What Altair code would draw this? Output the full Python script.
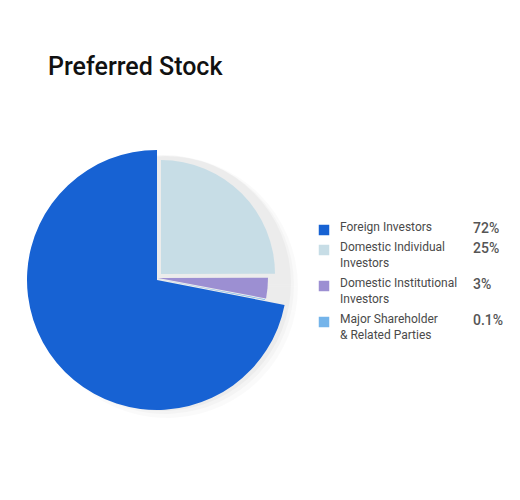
import altair as alt
import pandas as pd

# ---- data ----
categories = [
    "Foreign Investors",
    "Domestic Individual Investors",
    "Domestic Institutional Investors",
    "Major Shareholder & Related Parties",
]
legend_labels = [
    "Foreign Investors",
    "Domestic Individual\nInvestors",
    "Domestic Institutional\nInvestors",
    "Major Shareholder\n& Related Parties",
]
shares = [72, 25, 3, 0.1]
pct_labels = ["72%", "25%", "3%", "0.1%"]
pie_order = [3, 0, 1, 2]          # clockwise order from 12 o'clock
colors = ["#1762d3", "#c7dde6", "#9c8fd2", "#74b4ea"]

total = sum(shares)

# legend row slots (in line units), derived from label line counts
line_counts = [lab.count("\n") + 1 for lab in legend_labels]
slots = []
acc = 0.0
for i, n in enumerate(line_counts):
    slots.append(acc + 0.25 * i)
    acc += n

df = pd.DataFrame({
    "category": categories,
    "share": shares,
    "order": pie_order,
})
legend_df = pd.DataFrame({
    "category": categories,
    "label": legend_labels,
    "pct": pct_labels,
    "slot": slots,
})

color_scale = alt.Scale(domain=categories, range=colors)

base = alt.Chart(df).transform_window(
    cum="sum(share)", sort=[alt.SortField("order")], frame=[None, 0]
).transform_calculate(start="datum.cum - datum.share")

theta_enc = alt.Theta("start:Q", scale=alt.Scale(domain=[0, total]))


def slice_layer(cat, r, cx, cy):
    return base.transform_filter(alt.datum.category == cat).mark_arc(
        radius=r, strokeWidth=0
    ).encode(
        theta=theta_enc,
        theta2="cum:Q",
        x=alt.value(cx),
        y=alt.value(cy),
        color=alt.Color("category:N", scale=color_scale, legend=None),
    )


def shadow_layer(r, cx, cy, op):
    return base.mark_arc(radius=r, color="#000000", opacity=op, strokeWidth=0).encode(
        theta=theta_enc,
        theta2="cum:Q",
        x=alt.value(cx),
        y=alt.value(cy),
    )


# plot origin is screen (8, 98)
shadows = [
    shadow_layer(131, 159, 189, 0.018),
    shadow_layer(129, 157, 187, 0.025),
    shadow_layer(128, 155, 185, 0.03),
]

slices = [
    slice_layer(categories[1], 114, 153, 176),
    slice_layer(categories[2], 110, 150, 180),
    slice_layer(categories[3], 109, 150, 181),
    slice_layer(categories[0], 130, 149, 182),
]

y_enc = alt.Y("slot:Q", scale=alt.Scale(domain=[0, 1], range=[124, 140], nice=False, zero=False), axis=None)

leg = alt.Chart(legend_df)
symbols = leg.mark_square(size=110, yOffset=8, opacity=1).encode(
    x=alt.value(316),
    y=y_enc,
    color=alt.Color("category:N", scale=color_scale, legend=None),
)
labels = leg.mark_text(
    align="left", baseline="top", font="Roboto", fontSize=12, lineHeight=16,
    lineBreak="\n", color="#4a4a4a",
).encode(x=alt.value(332), y=y_enc, text="label:N")
pcts = leg.mark_text(
    align="left", baseline="top", font="Roboto", fontSize=14, fontWeight=500,
    color="#555555", dy=0,
).encode(x=alt.value(465), y=y_enc, text="pct:N")

chart = alt.layer(*shadows, *slices, symbols, labels, pcts).properties(
    width=504,
    height=394,
    padding={"top": 90, "left": 0, "right": 0, "bottom": 0},
    autosize=alt.AutoSizeParams(type="none"),
    title=alt.Title(
        "Preferred Stock",
        anchor="start",
        frame="group",
        orient="top",
        dx=40,
        offset=-2,
        baseline="alphabetic",
        font="Roboto",
        fontSize=25,
        fontWeight=500,
        color="#111111",
    ),
).configure_view(stroke=None)

chart.save("out.html", embed_options={"renderer": "svg", "actions": False})
